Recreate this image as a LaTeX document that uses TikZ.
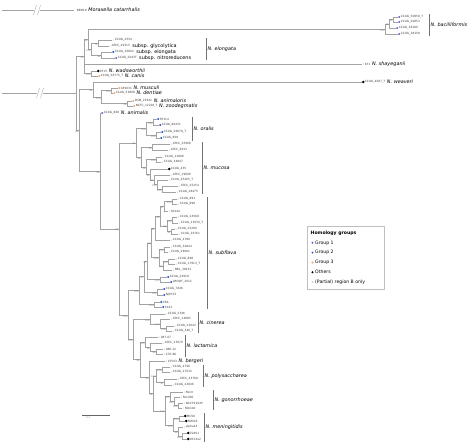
\documentclass[tikz,border=0pt]{standalone}
\usepackage{fontspec}
\setsansfont{DejaVu Sans}
\usetikzlibrary{positioning}
\definecolor{grpone}{HTML}{7D57DE}
\definecolor{grptwo}{HTML}{2E4FD4}
\definecolor{grpthree}{HTML}{F0A56C}
\definecolor{partial}{HTML}{D2D2D2}
\definecolor{branchgray}{HTML}{A3A3A3}
\definecolor{textdark}{HTML}{404040}
\newcommand{\leaffont}{\sffamily\fontsize{2.9}{3.3}\selectfont}
\newcommand{\bootfont}{\sffamily\fontsize{2.3}{2.6}\selectfont}
\newcommand{\spfont}{\sffamily\fontsize{4.9}{5.6}\selectfont}

\begin{document}
\begin{tikzpicture}[x=1pt, y=-1pt,
  branch/.style={draw=branchgray, line width=0.35pt},
  leaf/.style={anchor=west, inner xsep=0pt, inner ysep=0.3pt, text=textdark, font=\leaffont, execute at begin node={\hspace*{2.6pt}}},
  boot/.style={anchor=north east, inner sep=0.2pt, text=black!55, font=\bootfont},
  sp/.style={inner sep=0.5pt, font=\spfont\itshape},
  subsp/.style={inner sep=0.5pt, font=\spfont},
  clade/.style={draw=black!55, line width=0.45pt},
  legtext/.style={anchor=west, inner sep=0.5pt, font=\sffamily\fontsize{4.6}{5.2}\selectfont},
]
\useasboundingbox (0,0) rectangle (474,442);

% Internal nodes — upper part
\coordinate (mroot) at (2,10);
\coordinate (root) at (2,93.2);
\coordinate (A) at (76,93.2);
\coordinate (U) at (84,56.2);
\coordinate (Ub) at (88,38.95);
\coordinate (b0) at (385,28.9);
\coordinate (b1) at (389,23.75);
\coordinate (b2) at (393,19.5);
\coordinate (e0) at (91,49);
\coordinate (e1) at (98,43);
\coordinate (e2) at (101,55);
\coordinate (w) at (91,73.5);
\coordinate (A2) at (79,130.2);
\coordinate (M) at (93,89.5);
\coordinate (mmz) at (101,97);
\coordinate (mde) at (111,90.5);
\coordinate (maz) at (127,103.5);
\coordinate (C) at (100,170.9);
\coordinate (D) at (119,228.8);

% Internal nodes — oralis / mucosa
\coordinate (Q) at (136,142.75);
\coordinate (O) at (146,128.5);
\coordinate (oa) at (153,122);
\coordinate (ob) at (156,135);
\coordinate (mq0) at (141,157);
\coordinate (mp1) at (152,147);
\coordinate (mq1) at (146,166.95);
\coordinate (mp2) at (156,159.5);
\coordinate (mq2) at (150,174.4);
\coordinate (mq3) at (154,179.75);
\coordinate (mq4) at (157,184.5);
\coordinate (mp3) at (162,189);

% Internal nodes — subflava
\coordinate (R) at (128,314.9);
\coordinate (fa) at (172,201.5);
\coordinate (fb) at (164,206.25);
\coordinate (fc) at (172,220);
\coordinate (fd) at (171,231.5);
\coordinate (fe) at (167,225.75);
\coordinate (ff) at (160,216);
\coordinate (fg) at (155,228);
\coordinate (fh) at (164,249.5);
\coordinate (fi) at (168,261.5);
\coordinate (fj) at (163,265.75);
\coordinate (fk) at (159,257.6);
\coordinate (fl) at (151,242.8);
\coordinate (fm) at (160,279.5);
\coordinate (fn) at (147,261.15);
\coordinate (fo) at (157,292);
\coordinate (fp) at (144,276.6);
\coordinate (fq) at (154,304.5);
\coordinate (fr) at (139,290.55);

% Internal nodes — lower part
\coordinate (lw) at (133,339.25);
\coordinate (cic) at (150,318.9);
\coordinate (cib) at (160,323.75);
\coordinate (cia) at (166,328.5);
\coordinate (lb) at (140,359.6);
\coordinate (lcc) at (145,342.1);
\coordinate (lcb) at (150,347.25);
\coordinate (lca) at (156,351.5);
\coordinate (bpgm) at (149,377.15);
\coordinate (pgm) at (153,393.3);
\coordinate (pc) at (156,375.75);
\coordinate (pa) at (162,369.5);
\coordinate (pb) at (164,382);
\coordinate (gm) at (165,410.8);
\coordinate (gc) at (170,396.6);
\coordinate (gb) at (174,401.25);
\coordinate (ga) at (178,405.5);
\coordinate (mnd) at (173,425);
\coordinate (mnc) at (179,418.5);
\coordinate (mnb) at (178,431.5);
\coordinate (mna) at (182,436);

% Leaves
\node[leaf] (mor) at (74,10) {BBH18};
\foreach \n/\x/\y/\lab in {ba1/398/17/CCUG\_50858\_T, ba2/398/22/CCUG\_50853, ba3/396/28/CCUG\_38180, ba4/398/34/CCUG\_38158,
    el1/112/40/CCUG\_4554, el2/109/46/ATCC\_29315, el3/112/52/CCUG\_30802, el4/115/58/CCUG\_2043T,
    sh/362/64/871, wa/97/71/9715, ca/98/76/CCUG\_56775\_T, we/362/82/CCUG\_4007\_T,
    nmus/118/88/AP2031, nden/113/93/CCUG\_53898, nanl/132/101/DSM\_21642, nzoo/133/106/NCTC\_12228\_T, nami/101/113/CCUG\_808}
  \node[leaf] (\n) at (\x,\y) {\lab};
\foreach \n/\x/\y/\lab in {or1/157/119/F0314, or2/159/125/CCUG\_80431, or3/161/132/CCUG\_26878\_T, or4/160/138/CCUG\_809,
    muc1/170/144/ATCC\_25996, muc2/168/150/ATCC\_9913, muc3/162/157/CCUG\_12806, muc4/161/162/CCUG\_34847, muc5/168/169/CCUG\_435,
    muc6/170/175/ATCC\_19696, muc7/168/180/CCUG\_45405\_T, muc8/178/186/ATCC\_25254, muc9/176/192/CCUG\_28475}
  \node[leaf] (\n) at (\x,\y) {\lab};
\foreach \n/\x/\y/\lab in {sf1/177/199/CCUG\_891, sf2/177/204/CCUG\_898, sf3/168/211/SK144, sf4/177/217/CCUG\_24568,
    sf5/178/223/CCUG\_23030\_T, sf6/175/229/CCUG\_25289, sf7/178/234/CCUG\_29761, sf8/170/240/CCUG\_4789,
    sf9/170/247/CCUG\_34844, sf10/168/252/CCUG\_29081, sf11/175/259/CCUG\_888, sf12/175/264/CCUG\_17913\_T,
    sf13/172/270/NRL\_30031, sf14/167/277/CCUG\_24918, sf15/170/282/2BOOT\_2012, sf16/163/289/CCUG\_7826,
    sf17/163/295/NJ9703, sf18/160/302/C6A, sf19/162/307/C102}
  \node[leaf] (\n) at (\x,\y) {\lab};
\foreach \n/\x/\y/\lab in {ci1/165/314/CCUG\_5346, ci2/170/319/ATCC\_14685, ci3/174/326/CCUG\_32042, ci4/172/331/CCUG\_346\_T,
    la1/158/337/087-07, la2/162/343/ATCC\_23970, la3/163/349/086-12, la4/163/354/C35-86, berg/165/361/15503,
    po1/170/367/CCUG\_4790, po2/170/372/CCUG\_27032, po3/177/379/ATCC\_43768, po4/172/385/CCUG\_24846,
    go1/183/392/FA19, go2/180/397/FA1090, go3/183/403/NCCP11945, go4/182/408/FA6140,
    me1/184/416/MC58, me2/185/421/FAM18, me3/183/427/alpha14, me4/187/433/Z2491, me5/187/439/053442}
  \node[leaf] (\n) at (\x,\y) {\lab};

% Branches
\draw[branch] (mroot) -- (mor);
\draw[branch] (root) -- (A);
\foreach \p/\c in {A/U, A/A2, U/Ub, U/sh, U/w, Ub/b0, Ub/e0,
    b0/b1, b0/ba4, b1/b2, b1/ba3, b2/ba1, b2/ba2,
    e0/e1, e0/e2, e1/el1, e1/el2, e2/el3, e2/el4, w/wa, w/ca,
    A2/M, A2/C, M/we, M/mmz, mmz/mde, mmz/maz, mde/nmus, mde/nden, maz/nanl, maz/nzoo,
    C/nami, C/D, D/Q, D/R, Q/O, Q/mq0, O/oa, O/ob, oa/or1, oa/or2, ob/or3, ob/or4,
    mq0/mp1, mq0/mq1, mp1/muc1, mp1/muc2, mq1/mp2, mq1/mq2, mp2/muc3, mp2/muc4,
    mq2/muc5, mq2/mq3, mq3/muc6, mq3/mq4, mq4/muc7, mq4/mp3, mp3/muc8, mp3/muc9}
  \draw[branch] (\p) |- (\c);
\foreach \p/\c in {R/fr, R/lw, fr/fp, fr/fq, fq/sf18, fq/sf19, fp/fn, fp/fo, fo/sf16, fo/sf17,
    fn/fl, fn/fm, fm/sf14, fm/sf15, fl/fg, fl/fk, fg/ff, fg/sf8,
    ff/fb, ff/fe, fb/fa, fb/sf3, fa/sf1, fa/sf2, fe/fc, fe/fd, fc/sf4, fc/sf5, fd/sf6, fd/sf7,
    fk/fh, fk/fj, fh/sf9, fh/sf10, fj/fi, fj/sf13, fi/sf11, fi/sf12}
  \draw[branch] (\p) |- (\c);
\foreach \p/\c in {lw/cic, lw/lb, cic/ci1, cic/cib, cib/ci2, cib/cia, cia/ci3, cia/ci4,
    lb/lcc, lb/bpgm, lcc/la1, lcc/lcb, lcb/la2, lcb/lca, lca/la3, lca/la4,
    bpgm/berg, bpgm/pgm, pgm/pc, pgm/gm, pc/pa, pc/pb, pa/po1, pa/po2, pb/po3, pb/po4,
    gm/gc, gm/mnd, gc/go1, gc/gb, gb/go2, gb/ga, ga/go3, ga/go4,
    mnd/mnc, mnd/mnb, mnc/me1, mnc/me2, mnb/me3, mnb/mna, mna/me4, mna/me5}
  \draw[branch] (\p) |- (\c);

% Axis breaks
\foreach \bx/\by in {37/10, 40/93.2} {
  \fill[white] (\bx-3,\by-1) rectangle (\bx+3,\by+1);
  \draw[branch] (\bx-3.5,\by+5) -- (\bx-0.5,\by-5);
  \draw[branch] (\bx+0.5,\by+5) -- (\bx+3.5,\by-5);
}

% Bootstrap support
\foreach \n/\v in {Ub/56, U/52, e0/100, e1/72, e2/98, w/100, b0/100, b1/82, b2/91, A2/64, M/81,
    mmz/100, mde/100, maz/96, C/98, D/90, Q/91, O/100, oa/100, ob/100,
    mq0/96, mp1/96, mq1/56, mp2/100, mq2/96, mq3/96, mq4/100, mp3/100,
    fa/100, fb/97, fc/100, fd/92, fe/88, ff/99, fg/91, fh/100, fi/100, fj/99, fk/100, fl/99,
    fm/100, fn/87, fo/100, fp/97, fq/100, fr/100, R/100, lw/100, cic/100, cib/100, cia/100,
    lb/96, lcc/100, lcb/96, lca/96, bpgm/96, pgm/94, pc/100, pa/100, pb/97,
    gm/100, gc/100, gb/100, ga/100, mnd/100, mnc/100, mnb/98, mna/100}
  \node[boot] (bs\n) at (\n) {\v};

% Homology group markers
\foreach \n in {ba1, ba2, ba3, ba4, el4, nami}
  \fill[grpone] ([xshift=1.3pt]\n.west) circle (1.1pt);
\foreach \n in {el3, or1, or2, or3, or4, sf14, sf15, sf16, sf17, sf18, sf19}
  \fill[grptwo] ([xshift=1.3pt]\n.west) circle (1.1pt);
\foreach \n in {ca, nmus, nden, nanl, nzoo}
  \fill[grpthree] ([xshift=1.3pt]\n.west) circle (1.1pt);
\foreach \n in {wa, we, muc5, me1, me2, me4, me5}
  \fill[black] ([xshift=1.3pt]\n.west) circle (1.4pt);
\foreach \n in {el1, el2, sh, muc1, muc2, muc3, muc4, muc6, muc7, muc8, muc9,
    sf1, sf2, sf3, sf4, sf5, sf6, sf7, sf8, sf9, sf10, sf11, sf12, sf13,
    ci1, ci2, ci3, ci4, la1, la2, la3, la4, berg, po1, po2, po3, po4, go1, go2, go3, go4, me3}
  \fill[partial] ([xshift=1.3pt]\n.west) circle (0.7pt);

% Species on single leaves
\node[sp, right=0.8pt of mor] (nmor) {Moraxella catarrhalis};
\node[subsp, right=1.5pt of el2] (sgly) {subsp. glycolytica};
\node[subsp, right=1.5pt of el3] (selo) {subsp. elongata};
\node[subsp, right=1.5pt of el4] (snit) {subsp. nitroreducens};
\node[sp, right=0.8pt of sh] (nsha) {N. shayeganii};
\node[sp, right=0.8pt of wa] (nwad) {N. wadsworthii};
\node[sp, right=0.8pt of ca] (ncan) {N. canis};
\node[sp, right=0.8pt of we] (nwea) {N. weaveri};
\node[sp, right=0.8pt of nmus] (lmus) {N. musculi};
\node[sp, right=0.8pt of nden] (lden) {N. dentiae};
\node[sp, right=0.8pt of nanl] (lanl) {N. animaloris};
\node[sp, right=0.8pt of nzoo] (lzoo) {N. zoodegmatis};
\node[sp, right=0.8pt of nami] (lami) {N. animalis};
\node[sp, right=0.8pt of berg] (lber) {N. bergeri};

% Species clades
\draw[clade] (429,14) -- (429,36) node[sp, midway, right=1pt] (nbac) {N. bacilliformis};
\draw[clade] (206,38) -- (206,60) node[sp, midway, right=1pt] (nelo) {N. elongata};
\draw[clade] (192,117) -- (192,141) node[sp, midway, right=1pt] (nora) {N. oralis};
\draw[clade] (202,142) -- (202,194) node[sp, midway, right=1pt] (nmuc) {N. mucosa};
\draw[clade] (207,197) -- (207,309) node[sp, midway, right=1pt] (nsub) {N. subflava};
\draw[clade] (198,312) -- (198,333) node[sp, midway, right=1pt] (ncin) {N. cinerea};
\draw[clade] (185,335) -- (185,357) node[sp, midway, right=1pt] (nlac) {N. lactamica};
\draw[clade] (203,365) -- (203,387) node[sp, midway, right=1pt] (npol) {N. polysaccharea};
\draw[clade] (213,390) -- (213,410) node[sp, midway, right=1pt] (ngon) {N. gonorrhoeae};
\draw[clade] (204,413) -- (204,442) node[sp, midway, right=1pt] (nmen) {N. meningitidis};

% Scale bar
\coordinate (sb0) at (82,415);
\coordinate (sb1) at (110,415);
\draw[branch, draw=black!60] (sb0) -- (sb1);
\node[boot, anchor=north west] (sbl) at (86,416.5) {0.1};

% Legend
\node[draw=black!25, fill=white, line width=0.4pt, minimum width=77pt, minimum height=63pt, anchor=north west, inner sep=0pt] (legend) at (307,226) {};
\node[legtext, font=\sffamily\bfseries\fontsize{4.6}{5.2}\selectfont] (legt) at (310,233.5) {Homology groups};
\foreach \c/\lab [count=\i] in {grpone/Group 1, grptwo/Group 2, grpthree/Group 3, black/Others, partial/(Partial) region B only} {
  \fill[\c] (312.5,233+9.8*\i) circle (1.1pt);
  \node[legtext] (leg\i) at (314.5,233+9.8*\i) {\lab};
}

\end{tikzpicture}
\end{document}
